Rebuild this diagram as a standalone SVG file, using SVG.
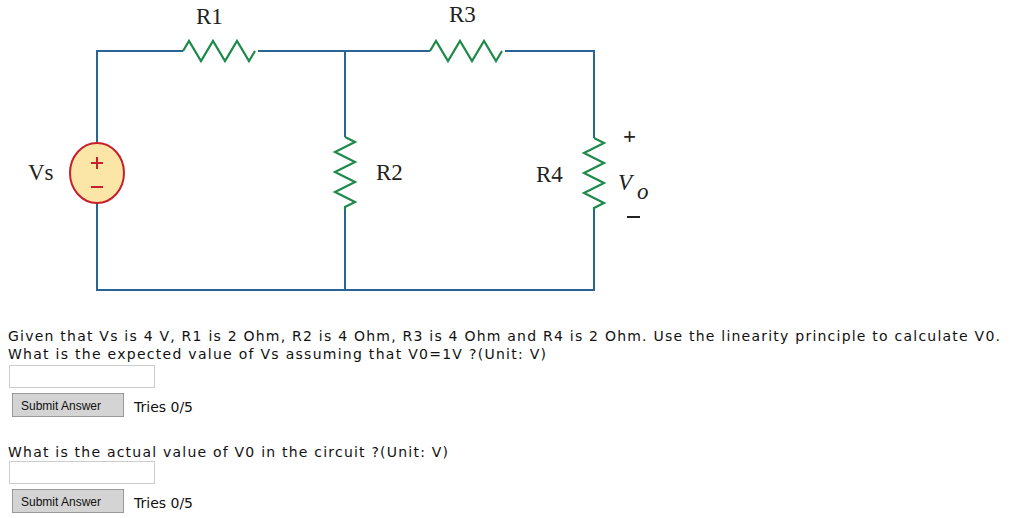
<svg xmlns="http://www.w3.org/2000/svg" width="1024" height="518" viewBox="0 0 1024 518">
<style>
.w{fill:none;stroke:#2a6496;stroke-width:2}
.r{fill:none;stroke:#1e8a4a;stroke-width:2.2}
.l{font-family:"Liberation Serif",serif;font-size:23px;fill:#222}
.t{font-family:"DejaVu Sans",sans-serif;font-size:14px;fill:#111}
.b{font-family:"Liberation Sans",sans-serif;font-size:12px;fill:#111}
.box{fill:#fff;stroke:#ccc}
.btn{fill:#d4d4d4;stroke:#999}
</style>
<rect width="1024" height="518" fill="#fff"/>
<g id="wires">
<path class="w" d="M97,143 V51 H183 M258,51 H430 M505,51 H594 V138 M594,210 V290 H97 V203 M345,51 V137 M345,210 V290"/>
</g>
<g id="R1"><path class="r" d="M183,51 l6,-10 l12,20 l12,-20 l12,20 l12,-20 l12,20 l6,-10"/><text class="l" x="196" y="24">R1</text></g>
<g id="R3"><path class="r" d="M430,51 l6,-10 l12,20 l12,-20 l12,20 l12,-20 l12,20 l6,-10"/><text class="l" x="449" y="22">R3</text></g>
<g id="R2"><path class="r" d="M345,137 l10,5 l-20,10 l20,10 l-20,10 l20,10 l-20,10 l20,10 l-10,5 v3"/><text class="l" x="376" y="180">R2</text></g>
<g id="R4"><path class="r" d="M594,138 l10,5 l-20,10 l20,10 l-20,10 l20,10 l-20,10 l20,10 l-10,5 v2"/><text class="l" x="536" y="182">R4</text></g>
<g id="Vs">
<ellipse cx="97" cy="173" rx="27" ry="30" fill="#fbe6a8" stroke="#c8202a" stroke-width="2"/>
<path d="M91,163 h12 M97,157 v12 M91,187 h12" stroke="#c8202a" stroke-width="2"/>
<text class="l" x="28" y="180">Vs</text>
</g>
<g id="Vo">
<text class="l" x="623" y="144" font-weight="bold">+</text>
<text class="l" x="618" y="190" font-style="italic" font-size="28">V</text>
<text class="l" x="637" y="199" font-style="italic" font-size="18">o</text>
<path d="M627,217 h13" stroke="#222" stroke-width="2"/>
</g>
<text class="t" x="8" y="341" textLength="992">Given that Vs is 4 V, R1 is 2 Ohm, R2 is 4 Ohm, R3 is 4 Ohm and R4 is 2 Ohm. Use the linearity principle to calculate V0.</text>
<text class="t" x="8" y="359" textLength="538">What is the expected value of Vs assuming that V0=1V ?(Unit: V)</text>
<rect class="box" x="9.5" y="365.5" width="145" height="22"/>
<rect class="btn" x="12.5" y="393.5" width="111" height="23"/>
<text class="b" x="21" y="410">Submit Answer</text>
<text class="t" x="134" y="412" font-size="15">Tries 0/5</text>
<text class="t" x="8" y="457" textLength="440">What is the actual value of V0 in the circuit ?(Unit: V)</text>
<rect class="box" x="9.5" y="461.5" width="145" height="22"/>
<rect class="btn" x="12.5" y="489.5" width="111" height="23"/>
<text class="b" x="21" y="506">Submit Answer</text>
<text class="t" x="134" y="508" font-size="15">Tries 0/5</text>
</svg>
